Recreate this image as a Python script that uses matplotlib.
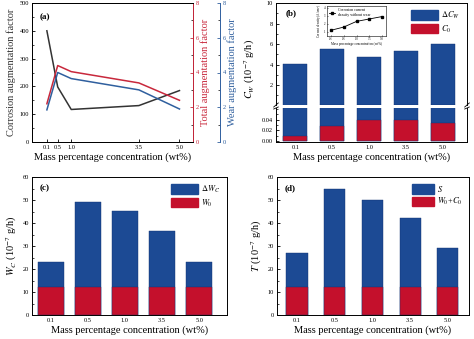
import matplotlib
matplotlib.use("Agg")
from matplotlib import pyplot as plt
from matplotlib.patches import Patch
from matplotlib.ticker import AutoMinorLocator
import numpy as np

plt.rcParams['font.family'] = ['Liberation Serif', 'DejaVu Serif']
plt.rcParams['mathtext.fontset'] = 'stix'

# DATA
conc = [0.1, 0.5, 1.0, 3.5, 5.0]
conc_labels = ["0.1", "0.5", "1.0", "3.5", "5.0"]

# (a) augmentation factors
corrosion_factor = [400, 198, 117, 131, 185]
total_factor = [2.2, 4.4, 4.05, 3.4, 2.4]
wear_factor = [1.85, 4.0, 3.65, 3.0, 1.9]

# (b) corrosion rate
cw_total = [4.1, 5.5, 4.7, 5.3, 6.0]
c0 = [0.010, 0.028, 0.040, 0.040, 0.033]
inset_current = [1.2, 1.6, 2.3, 2.6, 2.9]

# (c) wear rate
wc_total = [23.0, 49.3, 45.2, 36.7, 23.0]
w0 = [12.3, 12.3, 12.3, 12.3, 12.3]

# (d) total loss
t_total = [27.0, 55.0, 49.8, 42.0, 29.0]
w0c0 = [12.3, 12.3, 12.3, 12.3, 12.3]

BLUE = "#1c4a94"
RED = "#c4102c"
GREY = "#333333"
LRED = "#c8283c"
LBLUE = "#2f5f9e"

FS_LAB = 7.5
FS_TICK = 4.6

W, H = 474, 339
fig = plt.figure(figsize=(4.74, 3.39), dpi=100)


def box(l, t, r, b):
    return [l / W, 1 - b / H, (r - l) / W, (b - t) / H]


def style(ax, minor_y=True):
    ax.tick_params(direction="in", labelsize=FS_TICK, length=2.5, width=0.6, pad=2)
    ax.tick_params(which="minor", direction="in", length=1.4, width=0.5)
    if minor_y:
        ax.yaxis.set_minor_locator(AutoMinorLocator(2))
    for s in ax.spines.values():
        s.set_linewidth(0.7)


# ---------- (a) ----------
ax = fig.add_axes(box(32, 3, 193, 142))
ax.plot(conc, corrosion_factor, color=GREY, lw=1.1)
ax.set_xlim(-0.45, 5.5)
ax.set_ylim(0, 500)
ax.set_xticks(conc)
ax.set_xticklabels(conc_labels)
ax.set_yticks([0, 100, 200, 300, 400, 500])
style(ax)
ax.set_ylabel("Corrosion augmentation factor", fontsize=FS_LAB, color=GREY, labelpad=3)
ax.set_xlabel("Mass percentage concentration (wt%)", fontsize=FS_LAB, labelpad=2)
ax.text(0.05, 0.93, "(a)", transform=ax.transAxes, fontsize=6.5, fontweight="bold", va="top")

ax_t = ax.twinx()
ax_t.plot(conc, total_factor, color=LRED, lw=1.1)
ax_t.set_ylim(0, 8)
ax_t.set_yticks([0, 2, 4, 6, 8])
style(ax_t)
ax_t.spines["right"].set_color(LRED)
ax_t.tick_params(axis="y", colors=LRED)
ax_t.set_ylabel("Total augmentation factor", fontsize=FS_LAB, color=LRED, labelpad=1)

ax_w = ax.twinx()
ax_w.spines["right"].set_position(("axes", (220 - 32) / 161))
ax_w.plot(conc, wear_factor, color=LBLUE, lw=1.1)
ax_w.set_ylim(0, 8)
ax_w.set_yticks([0, 2, 4, 6, 8])
style(ax_w)
ax_w.spines["right"].set_color(LBLUE)
ax_w.tick_params(axis="y", colors=LBLUE)
ax_w.set_ylabel("Wear augmentation factor", fontsize=FS_LAB, color=LBLUE, labelpad=1)

# ---------- (b) broken axis ----------
x = np.arange(len(conc))
bw = 0.64
ax_up = fig.add_axes(box(276, 3, 467, 105))
ax_lo = fig.add_axes(box(276, 108, 467, 142))
for a in (ax_up, ax_lo):
    a.bar(x, cw_total, width=bw, color=BLUE, edgecolor="#123070", linewidth=0.3)
    a.bar(x, c0, width=bw, color=RED, edgecolor="#123070", linewidth=0.3)
    a.set_xlim(-0.52, 4.65)
    style(a)
ax_up.set_ylim(0.06, 10)
ax_up.set_yticks([2, 4, 6, 8, 10])
ax_up.spines["bottom"].set_visible(False)
ax_up.tick_params(axis="x", bottom=False, labelbottom=False)
ax_lo.set_ylim(-0.002, 0.062)
ax_lo.set_yticks([0.00, 0.02, 0.04])
ax_lo.yaxis.set_major_formatter(matplotlib.ticker.FormatStrFormatter("%.2f"))
ax_lo.spines["top"].set_visible(False)
ax_lo.set_xticks(x)
ax_lo.set_xticklabels(conc_labels)
ax_lo.tick_params(axis="x", length=0)
ax_lo.set_xlabel("Mass percentage concentration (wt%)", fontsize=FS_LAB, labelpad=2)
ax_up.set_ylabel(r"$C_W$ (10$^{-7}$ g/h)", fontsize=FS_LAB, labelpad=3)
ax_up.yaxis.set_label_coords(-0.1, 0.35)
ax_up.text(0.05, 0.94, "(b)", transform=ax_up.transAxes, fontsize=6.5, fontweight="bold", va="top")
# break marks
d = 0.012
for xx in (0, 1):
    ax_up.plot([xx - d, xx + d], [-0.02, 0.02], transform=ax_up.transAxes, color="k", lw=0.6, clip_on=False)
    ax_lo.plot([xx - d, xx + d], [0.97, 1.03], transform=ax_lo.transAxes, color="k", lw=0.6, clip_on=False)
ax_up.legend(handles=[Patch(color=BLUE, label=r"$\Delta C_W$"), Patch(color=RED, label=r"$C_0$")],
             loc="upper right", fontsize=6, frameon=False, handlelength=3.2, handleheight=1.4,
             borderaxespad=0.4, handletextpad=0.4, labelspacing=0.3)

ins = fig.add_axes(box(327, 6, 386, 36))
ins.plot(x, inset_current, color="k", lw=0.6, marker="s", ms=1.6, label="Corrosion current\ndensity without wear")
ins.set_xlim(-0.3, 4.3)
ins.set_ylim(0.5, 4.2)
ins.set_xticks(x)
ins.set_xticklabels(conc_labels)
ins.tick_params(direction="in", labelsize=2.2, length=1, width=0.4, pad=1)
for s in ins.spines.values():
    s.set_linewidth(0.4)
ins.set_xlabel("Mass percentage concentration (wt%)", fontsize=2.4, labelpad=0.5)
ins.set_ylabel("Current density (A/cm$^2$)", fontsize=2.4, labelpad=0.5)
ins.legend(loc="upper left", fontsize=2.8, frameon=False, handlelength=1.5, borderaxespad=0.2)

# ---------- (c) ----------
ax_c = fig.add_axes(box(32, 177, 227, 315))
ax_c.bar(x, wc_total, width=0.7, color=BLUE, edgecolor="#123070", linewidth=0.3)
ax_c.bar(x, w0, width=0.7, color=RED, edgecolor="#123070", linewidth=0.3)
ax_c.set_xlim(-0.5, 4.75)
ax_c.set_ylim(0, 60)
ax_c.set_xticks(x)
ax_c.set_xticklabels(conc_labels)
style(ax_c)
ax_c.tick_params(axis="x", length=0)
ax_c.set_ylabel(r"$W_C$ (10$^{-7}$ g/h)", fontsize=FS_LAB, labelpad=3)
ax_c.set_xlabel("Mass percentage concentration (wt%)", fontsize=FS_LAB, labelpad=2)
ax_c.text(0.04, 0.95, "(c)", transform=ax_c.transAxes, fontsize=6.5, fontweight="bold", va="top")
ax_c.legend(handles=[Patch(color=BLUE, label=r"$\Delta W_C$"), Patch(color=RED, label=r"$W_0$")],
            loc="upper right", fontsize=6, frameon=False, handlelength=3.2, handleheight=1.4,
            borderaxespad=0.4, handletextpad=0.4, labelspacing=0.3)

# ---------- (d) ----------
ax_d = fig.add_axes(box(277, 177, 469, 315))
ax_d.bar(x, t_total, width=0.56, color=BLUE, edgecolor="#123070", linewidth=0.3)
ax_d.bar(x, w0c0, width=0.56, color=RED, edgecolor="#123070", linewidth=0.3)
ax_d.set_xlim(-0.53, 4.56)
ax_d.set_ylim(0, 60)
ax_d.set_xticks(x)
ax_d.set_xticklabels(conc_labels)
style(ax_d)
ax_d.tick_params(axis="x", length=0)
ax_d.set_ylabel(r"$T$ (10$^{-7}$ g/h)", fontsize=FS_LAB, labelpad=3)
ax_d.set_xlabel("Mass percentage concentration (wt%)", fontsize=FS_LAB, labelpad=2)
ax_d.text(0.04, 0.95, "(d)", transform=ax_d.transAxes, fontsize=6.5, fontweight="bold", va="top")
ax_d.legend(handles=[Patch(color=BLUE, label=r"$S$"), Patch(color=RED, label=r"$W_0$+$C_0$")],
            loc="upper right", fontsize=6, frameon=False, handlelength=2.6, handleheight=1.4,
            borderaxespad=0.4, handletextpad=0.4, labelspacing=0.3)

fig.savefig("out.png", dpi=100)
